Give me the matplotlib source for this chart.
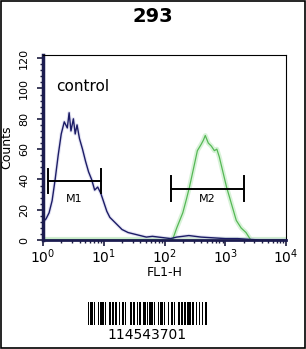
import numpy as np
import matplotlib.pyplot as plt
from matplotlib.patches import Rectangle

# histogram values (x in log10 units of FL1-H)
ctrl_log = [0.0, 0.05, 0.1, 0.15, 0.2, 0.25, 0.3, 0.35, 0.4, 0.43, 0.46, 0.5, 0.53, 0.56, 0.6,
            0.65, 0.7, 0.75, 0.8, 0.85, 0.9, 0.95, 1.0, 1.05, 1.1, 1.2, 1.3, 1.4, 1.5, 1.6,
            1.7, 1.8, 1.9, 2.0, 2.1, 2.2, 2.4, 2.6, 2.8, 3.0, 3.2, 3.4, 3.6, 4.0]
ctrl_cnt = [12, 14, 18, 26, 40, 56, 70, 78, 74, 84, 72, 80, 70, 76, 67,
            60, 52, 45, 40, 33, 35, 31, 25, 19, 15, 11, 7, 5, 4, 3,
            2, 2.5, 2, 1.5, 1, 2, 3, 2, 1.5, 1, 1, 0.5, 0, 0]

samp_log = [0.0, 2.0, 2.13, 2.2, 2.3, 2.36, 2.41, 2.47, 2.54, 2.6, 2.64, 2.67, 2.72, 2.77,
            2.82, 2.86, 2.9, 2.96, 3.02, 3.1, 3.18, 3.26, 3.34, 3.42, 4.0]
samp_cnt = [0, 0, 0, 8, 18, 27, 35, 46, 59, 63, 66, 69, 64, 62,
            59, 60, 55, 45, 35, 24, 13, 8, 5, 0, 0]

markers = [("M1", 0.08, 0.95, 39), ("M2", 2.1, 3.3, 34)]
ytick_vals = [0, 20, 40, 60, 80, 100, 120]
barcode_widths = [1, 1, 2, 1, 1, 2, 1, 1, 3, 1, 1, 2, 2, 1, 1, 1, 2, 1, 1, 2, 1, 1, 1, 3,
                  2, 1, 1, 2, 1, 1, 1, 2, 2, 1, 1, 1, 3, 1, 1, 2, 1, 1, 2, 1, 1, 2, 1, 2,
                  1, 1, 1, 2, 2, 1, 1, 1, 2, 1, 3, 1, 1, 2, 1, 1, 1, 2, 1, 1, 2]

fig = plt.figure(figsize=(3.06, 3.49), dpi=100)
fig.patches.append(Rectangle((0.002, 0.004), 0.995, 0.993, transform=fig.transFigure,
                             fill=False, edgecolor="black", linewidth=1.2))
fig.text(0.5, 0.952, "293", ha="center", va="center", fontsize=14, fontweight="bold")

ax = fig.add_axes([0.1405, 0.312, 0.7945, 0.530])
cx = 10 ** np.array(ctrl_log)
sx = 10 ** np.array(samp_log)
# soft glow under the lines
ax.axhline(1.0, color="#cdeccd", lw=3, alpha=0.8)
ax.plot(sx, samp_cnt, color="#bfeabf", lw=3.5, alpha=0.6)
ax.plot(cx, ctrl_cnt, color="#c8c8e8", lw=2.5, alpha=0.5)
ax.plot(sx, samp_cnt, color="#55b855", lw=0.9)
ax.plot(cx, ctrl_cnt, color="#1c1c66", lw=1.0)

for name, a, b, h in markers:
    ax.plot([10 ** a, 10 ** b], [h, h], color="black", lw=1.4)
    ax.plot([10 ** a] * 2, [h - 8, h + 8], color="black", lw=1.4)
    ax.plot([10 ** b] * 2, [h - 8, h + 8], color="black", lw=1.4)
    ax.text(10 ** ((a + b) / 2), 27, name, ha="center", va="center", fontsize=8)

ax.text(10 ** 0.22, 101, "control", fontsize=11, ha="left", va="center")

ax.set_xscale("log")
ax.set_xlim(1, 10000)
ax.set_ylim(0, 122)
ax.set_yticks(ytick_vals)
ax.set_yticklabels([str(v) for v in ytick_vals], rotation=90, va="center", fontsize=8)
ax.set_yticks(np.arange(0, 121, 4), minor=True)
ax.set_xticks([1, 10, 100, 1000, 10000])
ax.set_xticklabels([r"$10^0$", r"$10^1$", r"$10^2$", r"$10^3$", r"$10^4$"], fontsize=10)
ax.tick_params(axis="both", which="major", length=4, width=1.2, color="#1c1c40")
ax.tick_params(axis="both", which="minor", length=2.5, width=1, color="#1c1c40")
ax.tick_params(axis="y", pad=6)
ax.tick_params(axis="x", pad=1)
ax.spines["left"].set_linewidth(2.5)
ax.spines["left"].set_color("#1c1c50")
ax.spines["bottom"].set_linewidth(2.0)
ax.spines["bottom"].set_color("#1c1c50")
ax.spines["top"].set_linewidth(0.8)
ax.spines["right"].set_linewidth(0.8)
ax.set_xlabel("FL1-H", fontsize=9, labelpad=0)
ax.set_ylabel("Counts", fontsize=9, labelpad=4)

# barcode
bx = fig.add_axes([0.287, 0.068, 0.39, 0.068])
pos = 0
for i, w in enumerate(barcode_widths):
    if i % 2 == 0:
        bx.bar(pos, 1, width=w, align="edge", color="black")
    pos += w
bx.set_xlim(0, pos)
bx.set_ylim(0, 1)
bx.axis("off")
fig.text(0.48, 0.04, "114543701", ha="center", va="center", fontsize=10)

fig.savefig("out.png", dpi=100)
